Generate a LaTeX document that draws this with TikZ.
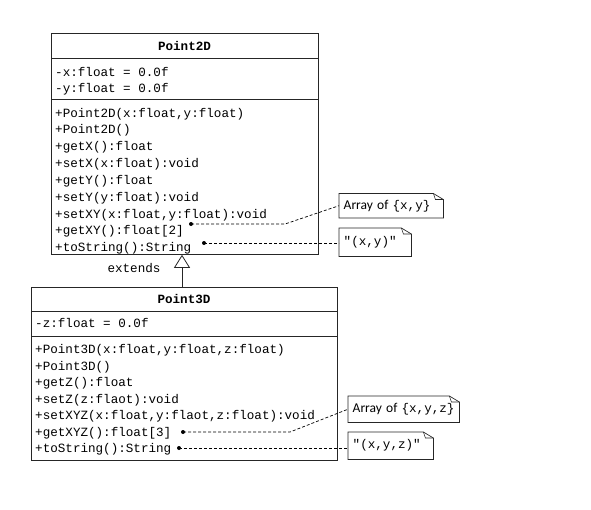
\documentclass[tikz,border=0pt]{standalone}
\usepackage{fontspec}
\setmonofont{Liberation Mono}
\newfontfamily\notefont{Carlito}
\usetikzlibrary{arrows.meta}

\tikzset{
  classbox/.style={draw=black!85, line width=0.8pt, anchor=north west, inner sep=0pt},
  member/.style={anchor=base west, inner sep=0pt, font=\ttfamily\fontsize{12.6}{15}\selectfont},
  classname/.style={anchor=base, inner sep=0pt, font=\ttfamily\bfseries\fontsize{12.6}{15}\selectfont},
  notebox/.style 2 args={anchor=north west, inner sep=0pt, inner xsep=4.5pt, text width=#1,
    minimum height=#2, align=left, font=\ttfamily\fontsize{12.6}{15}\selectfont},
  notelink/.style={line width=0.7pt, dash pattern=on 3pt off 2pt},
}

\begin{document}
\begin{tikzpicture}[x=1pt,y=-1pt]
  \useasboundingbox (0,0) rectangle (591,509);

  % class Point2D
  \node[classbox, minimum width=267pt, minimum height=221pt] (p2d) at (51,33) {};
  \draw[line width=0.8pt, black!85] (p2d.north west) ++(0,25) -- ++(267,0);
  \draw[line width=0.8pt, black!85] (p2d.north west) ++(0,66) -- ++(267,0);
  \node[classname] (p2d-name) at (184.5,50.5) {Point2D};
  \node[member] (p2d-x) at (55,76.5) {-x:float = 0.0f};
  \node[member] (p2d-y) at (55,92) {-y:float = 0.0f};
  \foreach \m [count=\i from 0] in {{+Point2D(x:float,y:float)}, {+Point2D()}, {+getX():float},
      {+setX(x:float):void}, {+getY():float}, {+setY(y:float):void},
      {+setXY(x:float,y:float):void}, {+getXY():float[2]}, {+toString():String}}
    \node[member] (p2d-m\i) at (55,117+16.85*\i) {\m};

  % class Point3D
  \node[classbox, minimum width=306pt, minimum height=173pt] (p3d) at (31,287) {};
  \draw[line width=0.8pt, black!85] (p3d.north west) ++(0,24) -- ++(306,0);
  \draw[line width=0.8pt, black!85] (p3d.north west) ++(0,49) -- ++(306,0);
  \node[classname] (p3d-name) at (184,303.5) {Point3D};
  \node[member] (p3d-z) at (35,327.5) {-z:float = 0.0f};
  \foreach \m [count=\i from 0] in {{+Point3D(x:float,y:float,z:float)}, {+Point3D()},
      {+getZ():float}, {+setZ(z:flaot):void}, {+setXYZ(x:float,y:flaot,z:float):void},
      {+getXYZ():float[3]}, {+toString():String}}
    \node[member] (p3d-m\i) at (35,353.5+16.5*\i) {\m};

  % generalization
  \coordinate (gen) at (182,0);
  \draw[line width=0.8pt, black!85, -{Triangle[open, width=16pt, length=13pt]}]
    (p3d.north -| gen) -- (p2d.south -| gen);
  \node[member, anchor=center] (ext) at (134,268) {extends};

  % notes
  \node[notebox={95pt}{24pt}] (n1) at (339,193.5) {{\notefont\fontsize{13.5}{16}\selectfont Array of} \{x,y\}};
  \node[notebox={63pt}{28pt}] (n2) at (339,228) {"(x,y)"};
  \node[notebox={102pt}{26pt}] (n3) at (348,396) {{\notefont\fontsize{13.5}{16}\selectfont Array of} \{x,y,z\}};
  \node[notebox={76pt}{27pt}] (n4) at (348,432) {"(x,y,z)"};
  \foreach \n in {n1,n2,n3,n4} {
    \draw[line width=0.7pt, black!85] (\n.north west) -- ([xshift=-10pt]\n.north east)
      -- ([yshift=-6pt]\n.north east) -- (\n.south east) -- (\n.south west) -- cycle;
    \draw[line width=0.6pt, black!85] ([xshift=-10pt]\n.north east) -- ([xshift=-8pt,yshift=-6pt]\n.north east)
      -- ([yshift=-6pt]\n.north east);
  }

  % links to notes
  \coordinate (d1) at (191,224);
  \coordinate (b1) at (285,224);
  \coordinate (d2) at (204,243);
  \coordinate (d3) at (183,432);
  \coordinate (b3) at (290,432);
  \coordinate (d4) at (179,448);
  \draw[notelink] (d1) -- (b1) -- (n1.west);
  \draw[notelink] (d2) -- (d2 -| n2.west);
  \draw[notelink] (d3) -- (b3) -- (n3.west);
  \draw[notelink] (d4) -- (d4 -| n4.west);
  \foreach \d in {d1,d2,d3,d4}
    \fill (\d) circle (2pt);
\end{tikzpicture}
\end{document}
